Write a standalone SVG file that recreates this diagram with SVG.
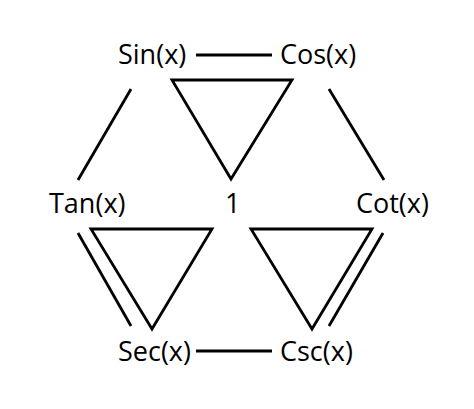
<svg xmlns="http://www.w3.org/2000/svg" width="474" height="409" viewBox="0 0 474 409">
<style>
.t{font-family:"Open Sans","Noto Sans",sans-serif;font-size:27px;fill:#000}
.l{stroke:#000;stroke-width:2.8;fill:none}
</style>
<rect width="474" height="409" fill="#fff"/>
<g id="sin"><text class="t" x="118" y="64">Sin(x)</text></g>
<g id="cos"><text class="t" x="280" y="64">Cos(x)</text></g>
<g id="tan"><text class="t" x="49" y="213">Tan(x)</text></g>
<g id="one"><text class="t" x="225" y="213">1</text></g>
<g id="cot"><text class="t" x="356" y="213">Cot(x)</text></g>
<g id="sec"><text class="t" x="118" y="361">Sec(x)</text></g>
<g id="csc"><text class="t" x="280" y="361">Csc(x)</text></g>
<g id="triangles">
<polygon class="l" points="172,80 292,80 231,179"/>
<polygon class="l" points="91,229 212,229 152,329"/>
<polygon class="l" points="251,229 372,229 312,329"/>
</g>
<g id="connectors">
<line class="l" x1="196" y1="55" x2="272" y2="55"/>
<line class="l" x1="131" y1="89" x2="78" y2="180"/>
<line class="l" x1="329" y1="89" x2="384" y2="180"/>
<line class="l" x1="78" y1="233" x2="131" y2="326"/>
<line class="l" x1="383" y1="233" x2="329" y2="326"/>
<line class="l" x1="196" y1="351" x2="272" y2="351"/>
</g>
</svg>
